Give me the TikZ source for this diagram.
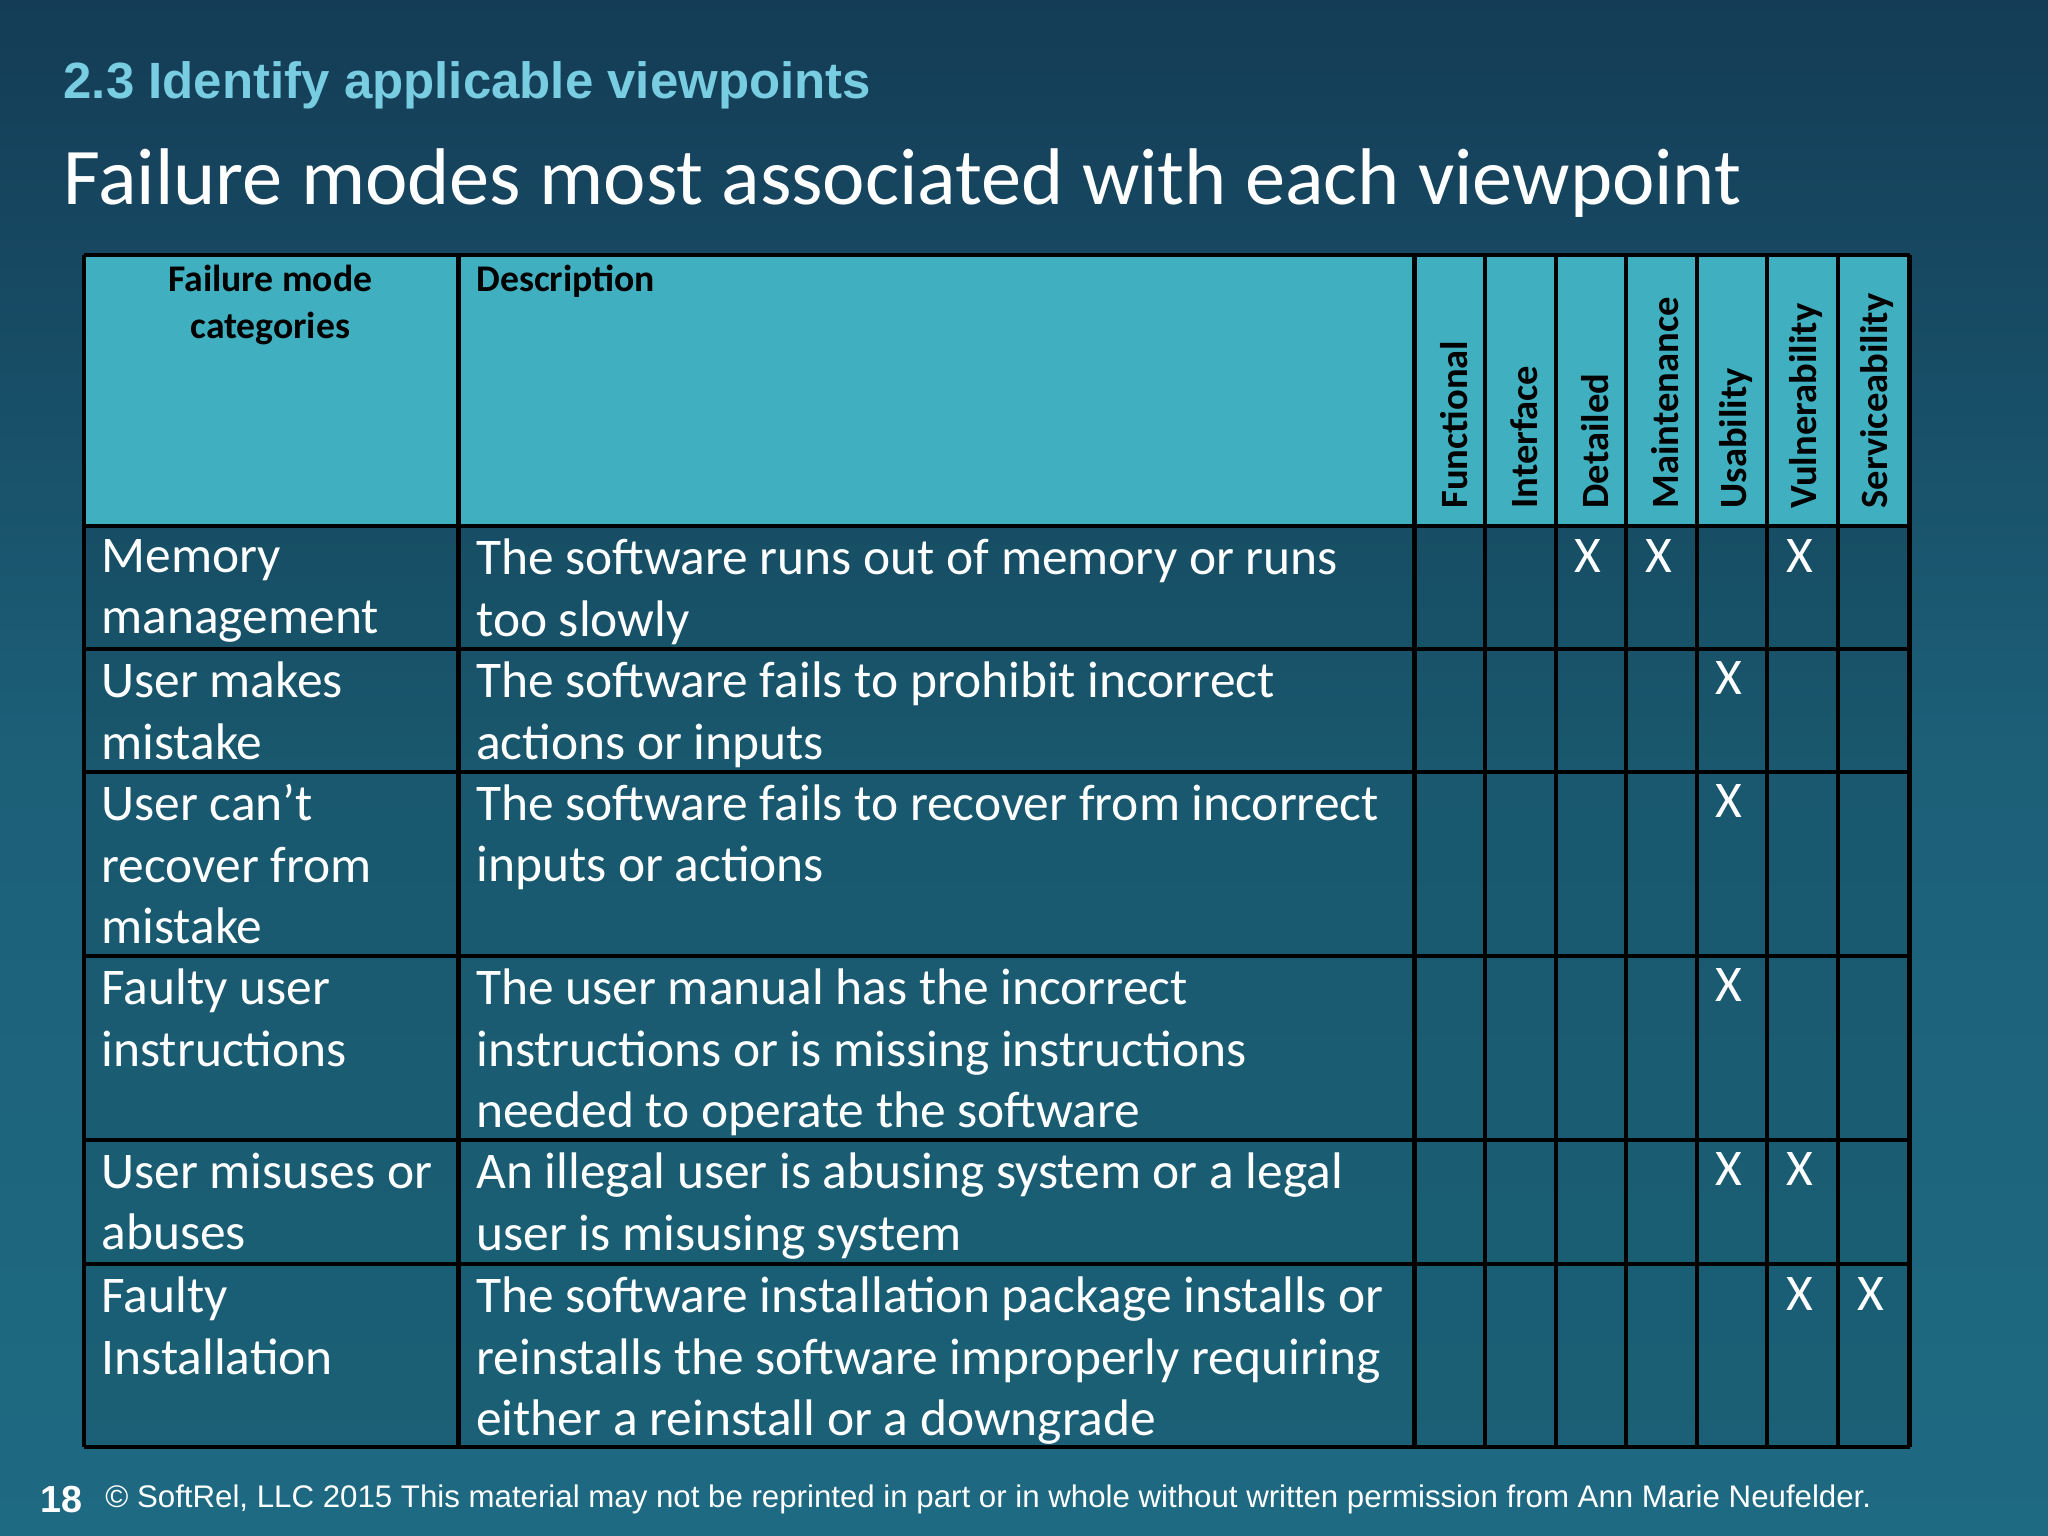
\documentclass[tikz,border=0pt]{standalone}
\usepackage{fontspec}
\setmainfont{Carlito}
\newfontfamily\arialf{Liberation Sans}
\definecolor{bgtop}{RGB}{20,60,86}
\definecolor{bgmid}{RGB}{28,96,120}
\definecolor{bgbot}{RGB}{30,106,130}
\definecolor{subc}{RGB}{120,205,225}
\definecolor{hdrc}{RGB}{64,176,192}
\begin{document}
\begin{tikzpicture}[x=0.01cm,y=-0.01cm,
  body/.style={anchor=north west,inner sep=0pt,align=left,text=white,font=\fontsize{11.2}{13.4}\selectfont},
  hdr/.style={anchor=north,inner sep=0pt,align=center,font=\bfseries\fontsize{8.2}{10.3}\selectfont},
  vh/.style={rotate=90,anchor=west,inner sep=0pt,font=\bfseries\fontsize{8.4}{9}\selectfont},
  xm/.style={anchor=north,inner sep=0pt,text=white,font=\fontsize{11.2}{13.4}\selectfont},
  grid/.style={line width=0.9pt,black}]
\useasboundingbox (0,0) rectangle (1568,1176);
\shade[top color=bgtop,bottom color=bgbot,middle color=bgmid] (0,0) rectangle (1568,1176);
\node[anchor=west,inner sep=0pt,text=subc,font=\arialf\bfseries\fontsize{11.1}{12}\selectfont] (sub) at (48,65) {2.3 Identify applicable viewpoints};
\node[anchor=west,inner sep=0pt,text=white,font=\fontsize{17.5}{18}\selectfont] (title) at (48,140) {Failure modes most associated with each viewpoint};
\fill[hdrc] (64,195) rectangle (1462,403);
\fill[black,opacity=0.08] (64,403) rectangle (1462,1108);
\foreach \x in {64,351,1083,1137,1191,1245,1299,1353,1407,1462} \draw[grid] (\x,195) -- (\x,1108);
\foreach \y in {195,403,497,591,732,873,968,1108} \draw[grid] (64,\y) -- (1462,\y);
\node[hdr] (h1) at (207,202) {Failure mode\\categories};
\node[hdr,anchor=north west] (h2) at (364,202) {Description};
\node[vh] (v1) at (1113,390) {Functional};
\node[vh] (v2) at (1167,390) {Interface};
\node[vh] (v3) at (1221,390) {Detailed};
\node[vh] (v4) at (1275,390) {Maintenance};
\node[vh] (v5) at (1329,390) {Usability};
\node[vh] (v6) at (1383,390) {Vulnerability};
\node[vh] (v7) at (1437,390) {Serviceability};
\node[body] (c1) at (77,412) {Memory\\management};
\node[body] (d1) at (364,412) {The software runs out of memory or runs\\too slowly};
\node[body] (c2) at (77,506) {User makes\\mistake};
\node[body] (d2) at (364,506) {The software fails to prohibit incorrect\\actions or inputs};
\node[body] (c3) at (77,600) {User can’t\\recover from\\mistake};
\node[body] (d3) at (364,600) {The software fails to recover from incorrect\\inputs or actions};
\node[body] (c4) at (77,741) {Faulty user\\instructions};
\node[body] (d4) at (364,741) {The user manual has the incorrect\\instructions or is missing instructions\\needed to operate the software};
\node[body] (c5) at (77,882) {User misuses or\\abuses};
\node[body] (d5) at (364,882) {An illegal user is abusing system or a legal\\user is misusing system};
\node[body] (c6) at (77,977) {Faulty\\Installation};
\node[body] (d6) at (364,977) {The software installation package installs or\\reinstalls the software improperly requiring\\either a reinstall or a downgrade};
\node[xm] (x13) at (1216,412) {X};
\node[xm] (x14) at (1270,412) {X};
\node[xm] (x16) at (1378,412) {X};
\node[xm] (x25) at (1324,506) {X};
\node[xm] (x35) at (1324,600) {X};
\node[xm] (x45) at (1324,741) {X};
\node[xm] (x55) at (1324,882) {X};
\node[xm] (x56) at (1378,882) {X};
\node[xm] (x66) at (1378,977) {X};
\node[xm] (x67) at (1432,977) {X};
\node[anchor=west,inner sep=0pt,text=white,font=\arialf\bfseries\fontsize{8.2}{10}\selectfont] (pg) at (30,1148) {18};
\node[anchor=west,inner sep=0pt,text=white,font=\arialf\fontsize{6.8}{8}\selectfont] (foot) at (80,1148) {© SoftRel, LLC 2015 This material may not be reprinted in part or in whole without written permission from Ann Marie Neufelder.};
\end{tikzpicture}
\end{document}
